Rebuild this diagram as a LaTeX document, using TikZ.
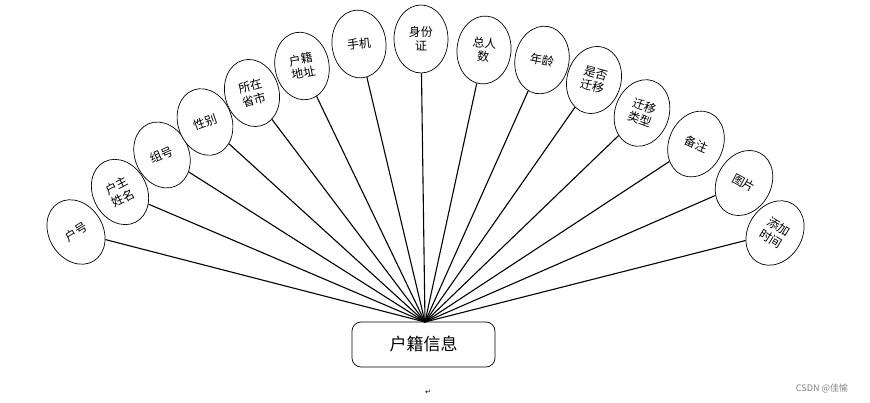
\documentclass[tikz,border=0pt]{standalone}
\usepackage{fontspec}
\setmainfont{Noto Sans CJK SC}
\newfontfamily\symfont{DejaVu Sans}
\usetikzlibrary{shapes.geometric}
\begin{document}
\begin{tikzpicture}[x=1pt,y=1pt,
  attr/.style={draw,ellipse,minimum width=54pt,minimum height=68pt,inner sep=0pt,align=center,font=\fontsize{12}{14}\selectfont,fill=white,line width=0.7pt},
  link/.style={line width=1.1pt},
  mainbox/.style={draw,rounded corners=9pt,minimum width=143pt,minimum height=45pt,font=\fontsize{17}{20}\selectfont,line width=0.7pt}]
\useasboundingbox (0,0) rectangle (870,403);
\node[mainbox] (main) at (423.5,58.5) {户籍信息};
\coordinate (hub) at (425,81);
\foreach \n/\x/\y/\t in {a/76/232/户号, b/120/192/{户主\\姓名}, c/162/155/组号, d/205/122/性别, e/252/93/{所在\\省市}, f/302/66/{户籍\\地址}, g/359/44/手机, h/421/39/{身份\\证}, i/484/50/{总人\\数}, j/542/60/年龄, k/594/80/{是否\\迁移}, l/642/113/{迁移\\类型}, m/696/144/备注, n/744/183/图片, o/775/233/{添加\\时间}}{
  \pgfmathsetmacro\ang{(425-\x)*0.09}
  \node[attr,rotate=\ang] (\n) at (\x,403-\y) {\t};
  \draw[link] (hub) -- (\n);
}
\node[font=\symfont\fontsize{7}{8}\selectfont] (ret) at (428,11) {↵};
\node[font=\fontsize{9}{10}\selectfont,text=gray] (wm) at (822,15) {CSDN @佳愉};
\end{tikzpicture}
\end{document}
